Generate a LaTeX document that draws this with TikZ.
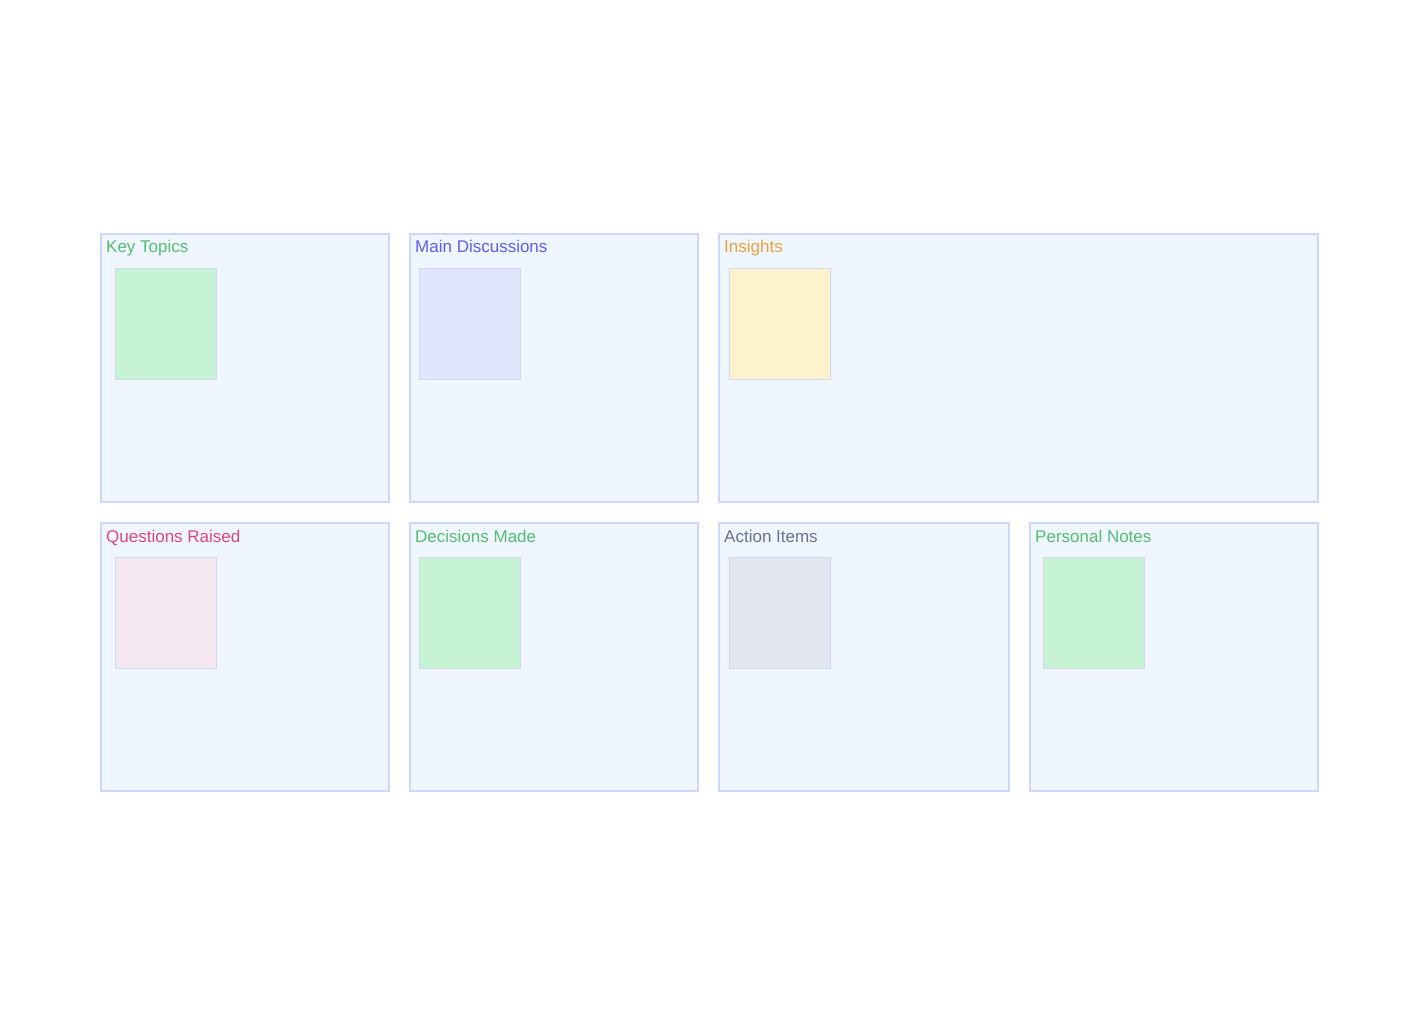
\documentclass[tikz,border=0pt]{standalone}
\usepackage{fontspec}
\setmainfont{Liberation Sans}
\usetikzlibrary{positioning}
\definecolor{panelfill}{HTML}{EFF6FF}
\definecolor{panelline}{HTML}{CDD6FC}
\definecolor{noteline}{HTML}{CFD8F7}
\definecolor{titlegreen}{HTML}{55BE6E}
\definecolor{titleindigo}{HTML}{5B5FE8}
\definecolor{titleamber}{HTML}{EBA03A}
\definecolor{titlepink}{HTML}{E0457F}
\definecolor{titleslate}{HTML}{64748B}
\definecolor{notegreen}{HTML}{C6F3D4}
\definecolor{noteindigo}{HTML}{E0E6FC}
\definecolor{noteamber}{HTML}{FCF3CD}
\definecolor{notepink}{HTML}{F5E7F0}
\definecolor{noteslate}{HTML}{E2E7EF}
\begin{document}
\begin{tikzpicture}[x=1pt, y=-1pt]
    \useasboundingbox (0, 0) rectangle (1418, 1024);

    \tikzset{
        panel/.style={
            draw=panelline, fill=panelfill,
            line width=1.6pt, rectangle,
            anchor=north west, inner sep=0pt,
            minimum height=268pt,
        },
        panel title/.style={
            anchor=base west, inner sep=0pt,
            font=\fontsize{17}{20}\selectfont,
        },
        sticky/.style={
            draw=noteline, line width=1pt, rectangle,
            anchor=north west, inner sep=0pt,
            minimum width=101pt, minimum height=111pt,
        },
    }

    % Panels with their sticky notes
    \foreach \name/\px/\py/\pw/\title/\tcolor/\nx/\ncolor in {
        keytopics/100/233/288/Key Topics/titlegreen/115/notegreen,
        maindisc/409/233/288/Main Discussions/titleindigo/419/noteindigo,
        insights/718/233/599/Insights/titleamber/729/noteamber,
        questions/100/522/288/Questions Raised/titlepink/115/notepink,
        decisions/409/522/288/Decisions Made/titlegreen/419/notegreen,
        actions/718/522/290/Action Items/titleslate/729/noteslate,
        personal/1029/522/288/Personal Notes/titlegreen/1043/notegreen%
    }{
        \node[panel, minimum width=\pw pt] (\name) at (\px, \py) {};
        \node[panel title, text=\tcolor, xshift=6pt, yshift=-20pt]
            (\name-title) at (\name.north west) {\title};
        \node[sticky, fill=\ncolor] (\name-note) at (\nx, \py + 35) {};
    }
\end{tikzpicture}
\end{document}
